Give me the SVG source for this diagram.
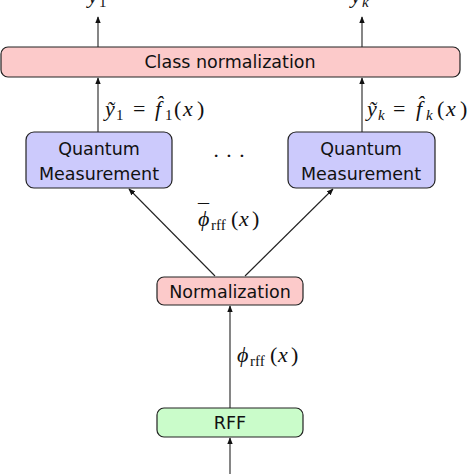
<svg xmlns="http://www.w3.org/2000/svg" width="474" height="474" viewBox="0 0 474 474">
<style>
.box{stroke:#222;stroke-width:1.2}
.red{fill:#fccaca}
.blue{fill:#cccafc}
.green{fill:#cafcca}
.lbl{font-family:"DejaVu Sans","Liberation Sans",sans-serif;font-size:17.5px;fill:#111;text-anchor:middle}
.m{font-family:"Liberation Serif",serif;font-size:22px;fill:#111}
.mi{font-style:italic}
.sub{font-size:15px}
.edge{stroke:#222;stroke-width:1.1;fill:none;marker-end:url(#ah)}
</style>
<defs>
<marker id="ah" viewBox="0 0 10 10" refX="9" refY="5" markerWidth="7" markerHeight="7" markerUnits="userSpaceOnUse" orient="auto">
<path d="M0,1 L10,5 L0,9 z" fill="#111"/>
</marker>
</defs>
<g id="connectors">
<line class="edge" x1="230" y1="474" x2="230" y2="438"/>
<line class="edge" x1="230" y1="408" x2="230" y2="306"/>
<line class="edge" x1="215" y1="276" x2="129" y2="189"/>
<line class="edge" x1="245" y1="276" x2="333" y2="189"/>
<line class="edge" x1="98" y1="132" x2="98" y2="78"/>
<line class="edge" x1="362" y1="132" x2="362" y2="78"/>
<line class="edge" x1="98" y1="47" x2="98" y2="17"/>
<line class="edge" x1="362" y1="47" x2="362" y2="17"/>
</g>
<g id="class-normalization">
<rect class="box red" x="1" y="47" width="459" height="30" rx="7"/>
<text class="lbl" x="230" y="68">Class normalization</text>
</g>
<g id="qm-1">
<rect class="box blue" x="26" y="132" width="146" height="56" rx="8"/>
<text class="lbl" x="99" y="155">Quantum</text>
<text class="lbl" x="99" y="180">Measurement</text>
</g>
<g id="qm-k">
<rect class="box blue" x="288" y="132" width="147" height="56" rx="8"/>
<text class="lbl" x="361" y="155">Quantum</text>
<text class="lbl" x="361" y="180">Measurement</text>
</g>
<g id="dots">
<text class="m" x="229" y="163" text-anchor="middle">· · ·</text>
</g>
<g id="normalization">
<rect class="box red" x="157" y="277" width="146" height="28" rx="7"/>
<text class="lbl" x="230" y="298">Normalization</text>
</g>
<g id="rff">
<rect class="box green" x="157" y="408" width="146" height="29" rx="7"/>
<text class="lbl" x="230" y="429">RFF</text>
</g>
<g id="labels">
<text class="m" y="3"><tspan class="mi" x="88">y</tspan><tspan class="sub" x="99" y="7">1</tspan></text>
<text class="m" y="3"><tspan class="mi" x="351">y</tspan><tspan class="sub mi" x="362" y="7">k</tspan></text>
<text class="m" y="116"><tspan class="mi" x="105">ỹ</tspan><tspan class="sub" x="116" y="120">1</tspan><tspan x="133" y="116">=</tspan><tspan class="mi" x="155">f̂</tspan><tspan class="sub" x="165" y="120">1</tspan><tspan x="174" y="116">(</tspan><tspan class="mi" x="183">x</tspan><tspan x="197">)</tspan></text>
<text class="m" y="116"><tspan class="mi" x="367">ỹ</tspan><tspan class="sub mi" x="378" y="120">k</tspan><tspan x="393" y="116">=</tspan><tspan class="mi" x="416">f̂</tspan><tspan class="sub mi" x="426" y="120">k</tspan><tspan x="437" y="116">(</tspan><tspan class="mi" x="446">x</tspan><tspan x="460">)</tspan></text>
<text class="m" y="226"><tspan class="mi" x="198">ϕ</tspan><tspan class="sub" x="211" y="230">rff</tspan><tspan x="231" y="226">(</tspan><tspan class="mi" x="239">x</tspan><tspan x="252">)</tspan></text>
<text class="m" x="198" y="219">¯</text>
<text class="m" y="362"><tspan class="mi" x="237">ϕ</tspan><tspan class="sub" x="250" y="366">rff</tspan><tspan x="270" y="362">(</tspan><tspan class="mi" x="278">x</tspan><tspan x="291">)</tspan></text>
</g>
</svg>
